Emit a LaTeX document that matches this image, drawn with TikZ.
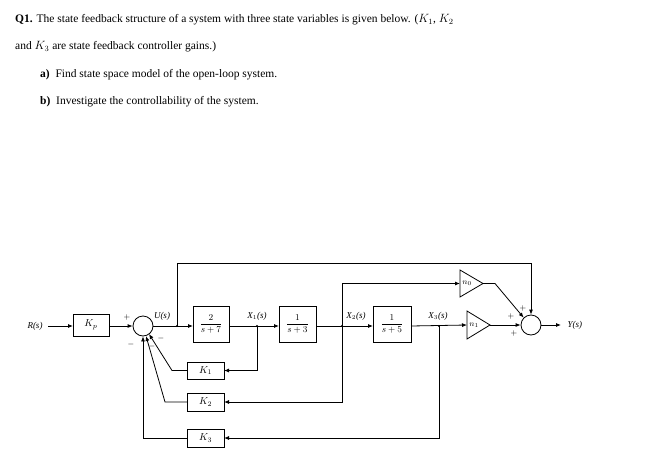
\documentclass[tikz,border=0pt]{standalone}
\usepackage{fontspec}
\setmainfont{Liberation Serif}
\usetikzlibrary{arrows.meta}
\begin{document}
\begin{tikzpicture}[x=1pt,y=-1pt,
  sig/.style={font=\itshape\fontsize{9}{9}\selectfont},
  ar/.style={-{Latex[length=5pt,width=4pt]},thick},
  frac/.style={font=\fontsize{9}{9}\selectfont},
  sgn/.style={font=\footnotesize},
  hd/.style={anchor=west,font=\fontsize{11.5}{13}\selectfont,inner sep=0pt}]
\useasboundingbox (0,0) rectangle (656,474);
\node[hd] (t1) at (15,20) {\textbf{Q1.} The state feedback structure of a system with three state variables is given below. ($K_1$, $K_2$};
\node[hd] (t2) at (15,47) {and $K_3$ are state feedback controller gains.)};
\node[hd] (t3) at (40,75) {\textbf{a)}\enspace Find state space model of the open-loop system.};
\node[hd] (t4) at (40,102) {\textbf{b)}\enspace Investigate the controllability of the system.};
% blocks
\node[sig] (R) at (35,326) {R(s)};
\draw[thick] (73,314) rectangle (109,336); \node (kp) at (91,325) {$K_p$};
\coordinate (kpl) at (73,326); \coordinate (kpr) at (109,326);
\node[draw,thick,circle,minimum size=20pt,inner sep=0pt] (s1) at (143,326) {};
\draw[thick] (193,306) rectangle (229,342); \node[frac] (g1) at (211,324) {$\displaystyle\frac{2}{s+7}$};
\draw[thick] (279,306) rectangle (316,342); \node[frac] (g2) at (297.5,324) {$\displaystyle\frac{1}{s+3}$};
\draw[thick] (373,306) rectangle (411,342); \node[frac] (g3) at (392,324) {$\displaystyle\frac{1}{s+5}$};
\coordinate (g1l) at (193,326); \coordinate (g1r) at (229,326);
\coordinate (g2l) at (279,326); \coordinate (g2r) at (316,326);
\coordinate (g3l) at (373,326); \coordinate (g3r) at (411,326);
\draw[thick] (187,362) rectangle (224,379); \node (k1) at (205.5,370.5) {$K_1$};
\draw[thick] (187,393) rectangle (224,411); \node (k2) at (205.5,402) {$K_2$};
\draw[thick] (187,429) rectangle (224,447); \node (k3) at (205.5,438) {$K_3$};
\draw[thick] (467,311) -- (490,325) -- (467,339) -- cycle; \node[font=\footnotesize] (n1) at (474,325) {$n_1$};
\draw[thick] (460,270) -- (483,283.5) -- (460,297) -- cycle; \node[font=\footnotesize] (n0) at (467,283.5) {$n_0$};
\node[draw,thick,circle,minimum size=20pt,inner sep=0pt] (s2) at (531,325) {};
\coordinate (Yend) at (561,325);
\node[sig,anchor=west] (Y) at (564,325) {Y(s)};
% signal labels
\node[sig] (U) at (162,316) {U(s)};
\node[sig] (X1) at (257,316) {X$_1$(s)};
\node[sig] (X2) at (356,316) {X$_2$(s)};
\node[sig] (X3) at (438,316) {X$_3$(s)};
% main path
\draw[ar] (R.east)++(2,0) -- (kpl);
\draw[ar] (kpr) -- (s1.west);
\draw[ar] (s1.east) -- (g1l);
\draw[ar] (g1r) -- (g2l);
\draw[ar] (g2r) -- (g3l);
\draw[ar] (g3r) -- (467,325);
\draw[ar] (490,325) -- (s2.west);
\draw[ar] (s2.east) -- (Yend);
% feedforward
\draw[ar] (177,326) -- (177,263) -- (531,263) -- (s2.north);
\draw[ar] (342,326) -- (342,283.5) -- (460,283.5);
\draw[ar] (483,283.5) -- (495,283.5) -- (s2.north west);
\fill (177,326) circle (1.2pt) (257,326) circle (1.2pt) (342,326) circle (1.2pt) (439,326) circle (1.2pt);
% feedback
\draw[ar] (257,326) -- (257,370.5) -- (224,370.5);
\draw[ar] (342,326) -- (342,402) -- (224,402);
\draw[ar] (439,326) -- (439,438) -- (224,438);
\draw[ar] (187,370.5) -- (172,370.5) -- (149,334);
\draw[ar] (187,402) -- (165,402) -- (146,336);
\draw[ar] (187,438) -- (143,438) -- (s1.south);
% signs
\node[sgn] (p1) at (127,317) {$+$};
\node[sgn] (m1) at (131,344) {$-$};
\node[sgn] (m2) at (161,338) {$-$};
\node[sgn] (m3) at (152,346) {$-$};
\node[sgn] (p2) at (523,308) {$+$};
\node[sgn] (p3) at (511,316) {$+$};
\node[sgn] (p4) at (514,333) {$+$};
\end{tikzpicture}
\end{document}
